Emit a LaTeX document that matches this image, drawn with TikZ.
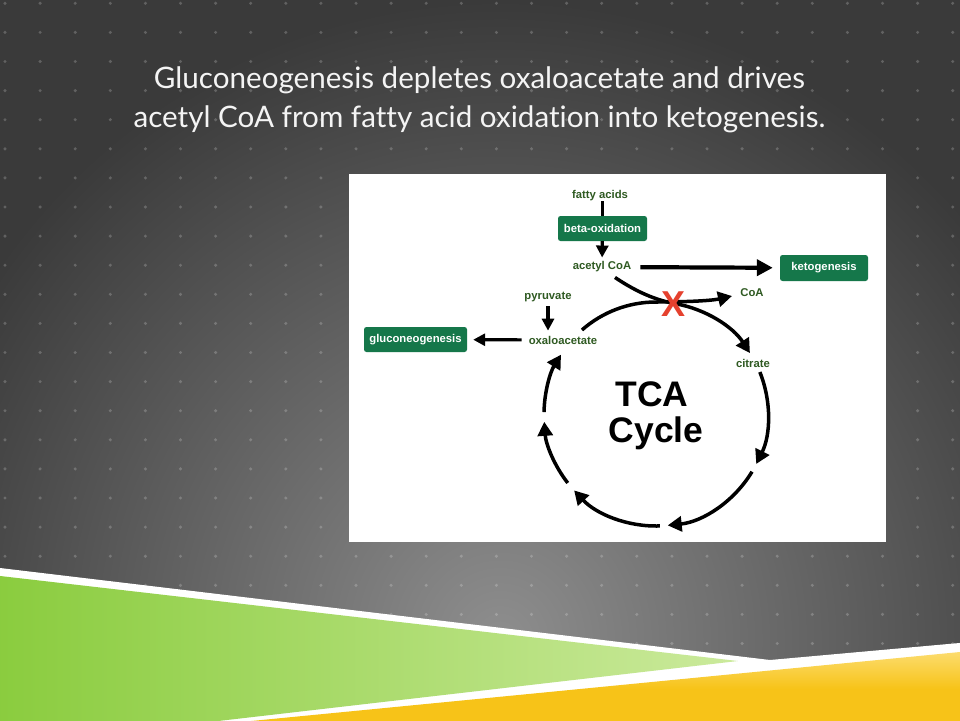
\documentclass[tikz,border=0pt]{standalone}
\usepackage{fontspec}
\newfontfamily\diagfont{Liberation Sans}
\newfontfamily\titlefont[Ligatures={NoCommon,NoRare,NoDiscretionary}]{Lato}
\usetikzlibrary{arrows.meta,calc}
\definecolor{bgout}{HTML}{3A3A3A}
\definecolor{bgin}{HTML}{8E8E8E}
\definecolor{boxgreen}{HTML}{15774A}
\definecolor{lblgreen}{HTML}{2F5A22}
\definecolor{xred}{HTML}{E5412E}
\definecolor{greenL}{HTML}{CBEA9C}
\definecolor{greenD}{HTML}{8ACC3E}
\definecolor{yellowL}{HTML}{FCDC6E}
\definecolor{yellowD}{HTML}{F7C318}
\definecolor{titlewhite}{HTML}{F4F4F4}
\begin{document}
\begin{tikzpicture}[x=1pt,y=-1pt,
  lbl/.style={font=\diagfont\bfseries\fontsize{11.3}{13}\selectfont, text=lblgreen, inner sep=0pt},
  gbox/.style={fill=boxgreen, rounded corners=2.5pt, text=white, inner sep=0pt,
    font=\diagfont\bfseries\fontsize{11.3}{13}\selectfont},
  flow/.style={line width=3.2pt, -{Triangle[length=12pt,width=12pt]}},
  flowk/.style={line width=4.2pt, -{Triangle[length=16pt,width=16pt]}},
  cyc/.style={line width=3.5pt, -{Triangle[length=14pt,width=15pt]}},
  titletext/.style={font=\titlefont\fontsize{29.6}{34}\selectfont, text=titlewhite, anchor=base, inner sep=0pt},
  bigtext/.style={font=\diagfont\bfseries\fontsize{35.5}{36}\selectfont, anchor=base, inner sep=0pt}
]
\useasboundingbox (0,0) rectangle (960,720);
% background
\fill[bgout] (-5,-5) rectangle (965,725);
\begin{scope}
  \clip (-5,-5) rectangle (965,725);
  \shade[inner color=bgin, outer color=bgout] (500,640) ellipse [x radius=620, y radius=640];
\end{scope}
% dot pattern
\foreach \i in {0,...,27}{
  \foreach \j in {0,...,22}{
    \fill[white, opacity=0.2] ({5+35.1*\i},{3.3+29.1*\j}) circle (1.7);
  }
}
% bottom bands
\fill[white] (-5,567.4) -- (770,660) -- (965,642.5) -- (965,726) -- (-5,726) -- cycle;
\shade[left color=greenD, right color=greenL] (-5,575.4) -- (738,661) -- (175,726) -- (-5,726) -- cycle;
\shade[top color=yellowL, bottom color=yellowD, middle color=yellowD] (200,726) -- (965,651.5) -- (965,726) -- cycle;
% title
\node[titletext] (t1) at (479.5,88) {Gluconeogenesis depletes oxaloacetate and drives};
\node[titletext] (t2) at (479.5,127) {acetyl CoA from fatty acid oxidation into ketogenesis.};
% diagram panel
\fill[white] (349,174) rectangle (886,542);
% nodes
\node[lbl] (fa) at (600,196) {fatty acids};
\node[gbox, minimum width=89pt, minimum height=25pt] (bo) at (602.5,228.5) {beta-oxidation};
\node[lbl] (ac) at (602,267) {acetyl CoA};
\node[gbox, minimum width=88pt, minimum height=26pt] (kg) at (824,268) {ketogenesis};
\node[lbl] (coa) at (752,293) {CoA};
\node[lbl] (py) at (548,297) {pyruvate};
\node[lbl] (oaa) at (563,340) {oxaloacetate};
\node[gbox, minimum width=103pt, minimum height=25pt] (gng) at (415.5,339.5) {gluconeogenesis};
\node[lbl] (cit) at (753,363) {citrate};
\node[bigtext] (tca1) at (652,406) {TCA};
\node[bigtext] (tca2) at (656,442) {Cycle};
\coordinate (O) at (656,414);
\coordinate (coatip) at (732,296);
% straight connectors
\draw[line width=3pt] (bo.north |- fa.south) -- (bo.north);
\draw[flow, shorten >=4pt] (bo) -- (ac);
\draw[flowk, shorten <=9pt, shorten >=7pt] (ac) -- (kg);
\draw[flow, shorten <=7pt, shorten >=6pt] (oaa) -- (gng);
\draw[flow, shorten <=4pt, shorten >=5pt] (py.south) -- (py.south |- oaa.north);
% TCA cycle
\draw[cyc] ($(O)+(-131.4:112)$) arc[start angle=-131.4, end angle=-90, radius=112]
  .. controls +(25,0) and +(-22,5) .. (coatip);
\draw[cyc] ($(ac.south)+(13,5)$) .. controls +(15,10) and +(-25,-4.4) .. ($(O)+(-80:112)$)
  arc[start angle=-80, end angle=-33, radius=112];
\draw[cyc] ($(O)+(-22:112)$) arc[start angle=-22, end angle=26.5, radius=112];
\draw[cyc] ($(O)+(31:112)$) arc[start angle=31, end angle=84, radius=112];
\draw[cyc] ($(O)+(88:112)$) arc[start angle=88, end angle=137, radius=112];
\draw[cyc] ($(O)+(142:112)$) arc[start angle=142, end angle=176, radius=112];
\draw[cyc] ($(O)+(181:112)$) arc[start angle=181, end angle=212, radius=112];
% block mark
\node[font=\diagfont\bfseries\fontsize{36}{36}\selectfont, text=xred, anchor=base, inner sep=0pt] (xx) at (673.5,316) {X};
\end{tikzpicture}
\end{document}
